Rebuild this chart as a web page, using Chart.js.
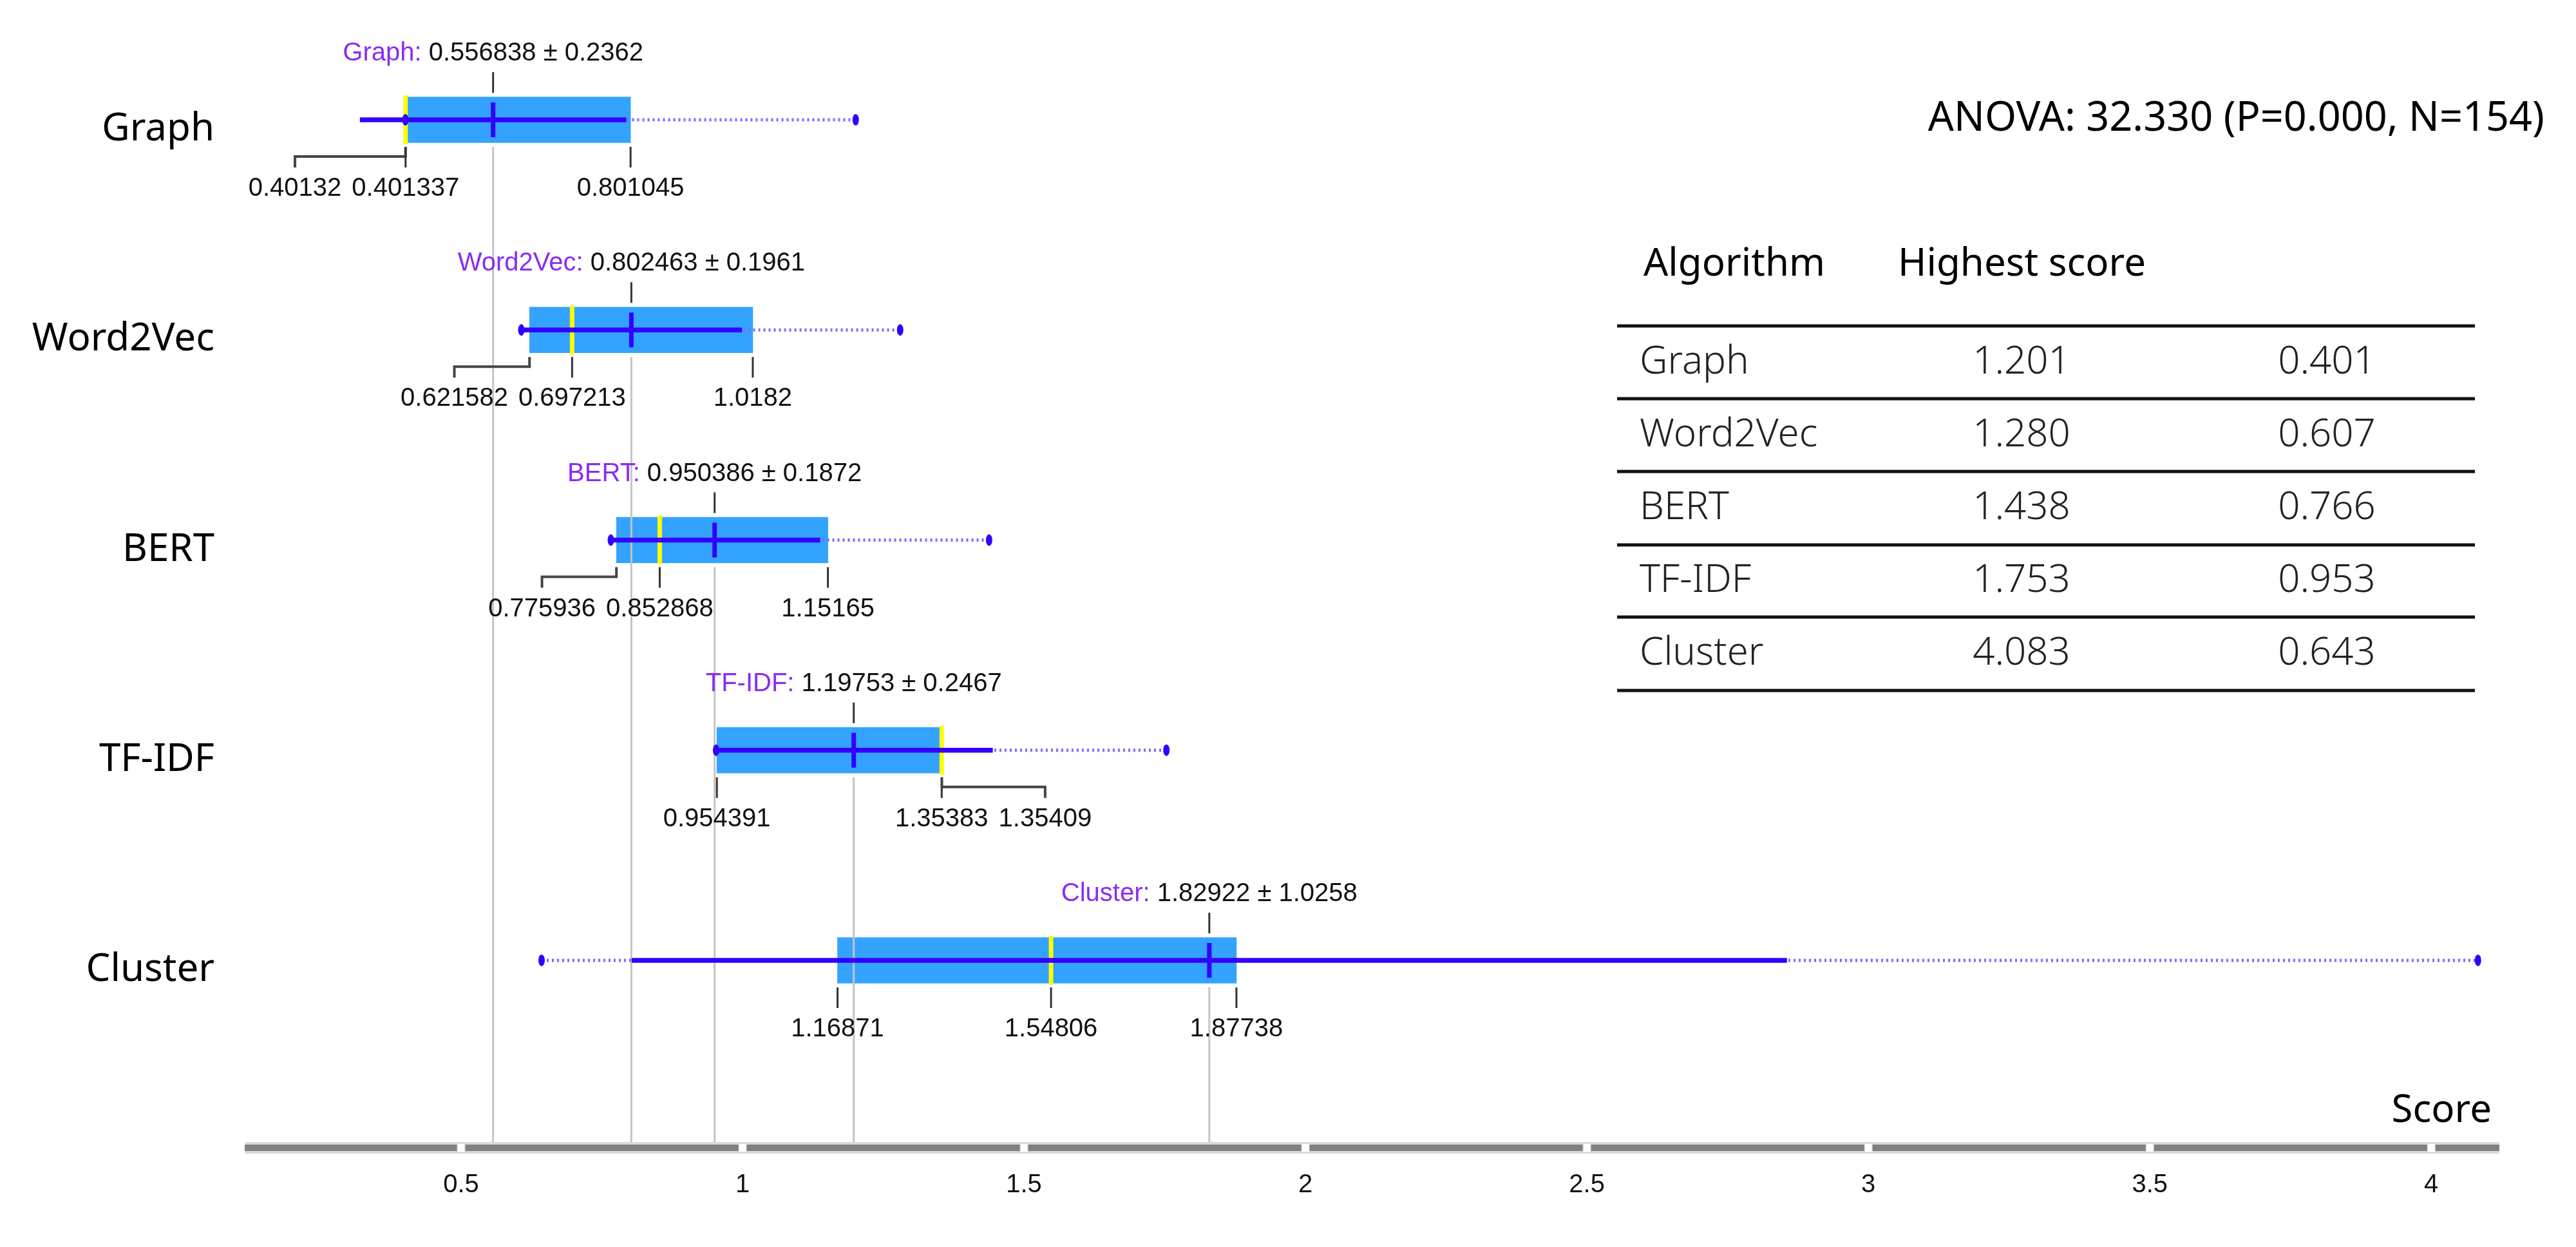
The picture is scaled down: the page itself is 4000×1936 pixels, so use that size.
<!DOCTYPE html>
<html>
<head>
<meta charset="utf-8">
<title>Score par algorithme</title>
<script src="https://cdn.jsdelivr.net/npm/chart.js@4.4.1/dist/chart.umd.min.js"></script>
<style>
    html, body { margin: 0; padding: 0; background: #fff; }
    #wrap { width: 4000px; height: 1936px; }
</style>
</head>
<body>
<div id="wrap"><canvas id="boxChart" width="4000" height="1936"></canvas></div>
<script>
// Données
const categories = ['Graph', 'Word2Vec', 'BERT', 'TF-IDF', 'Cluster'];
const means = [0.556838, 0.802463, 0.950386, 1.19753, 1.82922];
const stdDevs = [0.2362, 0.1961, 0.1872, 0.2467, 1.0258];
const q1 = [0.40132, 0.621582, 0.775936, 0.954391, 1.16871];
const medians = [0.401337, 0.697213, 0.852868, 1.35383, 1.54806];
const q3 = [0.801045, 1.0182, 1.15165, 1.35409, 1.87738];
const highest = [1.201, 1.280, 1.438, 1.753, 4.083];
const lowest = [0.401, 0.607, 0.766, 0.953, 0.643];
const xTicks = [0.5, 1, 1.5, 2, 2.5, 3, 3.5, 4];
const tableHeaders = ['Algorithm', 'Highest score'];
const anovaLabel = 'ANOVA: 32.330 (P=0.000, N=154)';
const axisTitle = 'Score';

// Couleurs
const BOX_BLUE = '#33a3ff';
const SD_BLUE = '#3300ff';
const DOT_BLUE = '#7d6cff';
const MEDIAN_YELLOW = '#ffff00';
const LABEL_PURPLE = '#8a2cf2';
const TICK_DARK = '#333333';
const MEAN_GRAY = '#c4c4c4';

const SMALL_FONT = '40px "Liberation Sans", Arial, sans-serif';
const BIG_FONT = '60px "Noto Sans", sans-serif';

// Format %g (6 chiffres significatifs)
const fmtG = v => parseFloat(v.toPrecision(6)).toString();

function line(ctx, x1, y1, x2, y2, color, width, dash) {
    ctx.save();
    ctx.strokeStyle = color;
    ctx.lineWidth = width;
    ctx.setLineDash(dash || []);
    ctx.beginPath();
    ctx.moveTo(x1, y1);
    ctx.lineTo(x2, y2);
    ctx.stroke();
    ctx.restore();
}

function text(ctx, str, x, y, font, color, align) {
    ctx.save();
    ctx.font = font;
    ctx.fillStyle = color;
    ctx.textAlign = align || 'center';
    ctx.textBaseline = 'middle';
    ctx.fillText(str, x, y);
    ctx.restore();
}

// Dessin des éléments propres au box plot (lignes, étiquettes, tableau)
const boxPlotExtras = {
    id: 'boxPlotExtras',
    afterDatasetDraw(chart, args) {
        if (args.index !== 0) return;
        const ctx = chart.ctx;
        const xs = chart.scales.x, ys = chart.scales.y;
        const axisY = chart.chartArea.bottom;
        categories.forEach((c, i) => {
            const cy = ys.getPixelForValue(i);
            // lignes grises verticales à la moyenne
            const mx = xs.getPixelForValue(means[i]);
            line(ctx, mx, cy + 42, mx, axisY - 6, MEAN_GRAY, 3);
            // moustaches pointillées min -> max
            line(ctx, xs.getPixelForValue(lowest[i]), cy, xs.getPixelForValue(highest[i]), cy, DOT_BLUE, 5, [3, 5]);
            // médiane
            const medX = xs.getPixelForValue(medians[i]);
            line(ctx, medX, cy - 38, medX, cy + 38, MEDIAN_YELLOW, 7);
        });
    },
    afterDatasetsDraw(chart) {
        const ctx = chart.ctx;
        const xs = chart.scales.x, ys = chart.scales.y;
        const area = chart.chartArea;

        categories.forEach((c, i) => {
            const cy = ys.getPixelForValue(i);
            const mx = xs.getPixelForValue(means[i]);

            // moyenne
            line(ctx, mx, cy - 27, mx, cy + 27, SD_BLUE, 7);
            // marqueurs min / max
            [lowest[i], highest[i]].forEach(v => {
                const px = xs.getPixelForValue(v);
                ctx.save();
                ctx.fillStyle = SD_BLUE;
                ctx.beginPath();
                ctx.ellipse(px, cy, 5, 9, 0, 0, Math.PI * 2);
                ctx.fill();
                ctx.restore();
            });

            // étiquette de la moyenne
            ctx.save();
            ctx.font = SMALL_FONT;
            const prefix = c + ':';
            const rest = ' ' + fmtG(means[i]) + ' \u00b1 ' + stdDevs[i].toFixed(4);
            const wp = ctx.measureText(prefix).width;
            const wr = ctx.measureText(rest).width;
            ctx.restore();
            const startX = mx - (wp + wr) / 2;
            text(ctx, prefix, startX, cy - 103, SMALL_FONT, LABEL_PURPLE, 'left');
            text(ctx, rest, startX + wp, cy - 103, SMALL_FONT, '#111', 'left');
            line(ctx, mx, cy - 74, mx, cy - 42, TICK_DARK, 3);

            // quartiles sous la boîte, décalés s'ils se chevauchent
            ctx.save();
            ctx.font = SMALL_FONT;
            const vals = [q1[i], medians[i], q3[i]];
            const labels = vals.map(fmtG);
            const widths = labels.map(l => ctx.measureText(l).width);
            ctx.restore();
            const px = vals.map(v => xs.getPixelForValue(v));
            const lx = px.slice();
            const gap = 16;
            if (lx[1] - lx[0] < (widths[0] + widths[1]) / 2 + gap) {
                lx[0] = lx[1] - (widths[0] + widths[1]) / 2 - gap;
            }
            if (lx[2] - lx[1] < (widths[1] + widths[2]) / 2 + gap) {
                lx[2] = lx[1] + (widths[1] + widths[2]) / 2 + gap;
            }
            const tTop = cy + 42, tBot = cy + 74, bY = cy + 57;
            for (let k = 0; k < 3; k++) {
                if (Math.abs(lx[k] - px[k]) < 1) {
                    line(ctx, px[k], tTop, px[k], tBot, TICK_DARK, 3);
                } else {
                    ctx.save();
                    ctx.strokeStyle = '#444';
                    ctx.lineWidth = 4;
                    ctx.beginPath();
                    ctx.moveTo(px[k], tTop);
                    ctx.lineTo(px[k], bY);
                    ctx.lineTo(lx[k], bY);
                    ctx.lineTo(lx[k], tBot);
                    ctx.stroke();
                    ctx.restore();
                }
                text(ctx, labels[k], lx[k], cy + 107, SMALL_FONT, '#111');
            }
        });

        // barre de l'axe des scores
        const ay = area.bottom;
        ctx.save();
        ctx.fillStyle = '#dadada';
        ctx.fillRect(area.left, ay - 9, area.right - area.left, 18);
        ctx.fillStyle = '#808080';
        ctx.fillRect(area.left, ay - 5, area.right - area.left, 10);
        xs.ticks.forEach(t => {
            const tx = xs.getPixelForValue(t.value);
            ctx.fillStyle = '#fff';
            ctx.fillRect(tx - 6, ay - 7, 12, 14);
            ctx.strokeStyle = '#d0d0d0';
            ctx.lineWidth = 1;
            ctx.strokeRect(tx - 6, ay - 7, 12, 14);
        });
        ctx.restore();
        text(ctx, axisTitle, 3869, 1725, BIG_FONT, '#000', 'right');

        // ANOVA
        text(ctx, anovaLabel, 3951, 185, '63px "Noto Sans", sans-serif', '#000', 'right');

        // tableau des scores
        const rowLines = [506, 619, 732, 846, 958, 1072];
        text(ctx, tableHeaders[0], 2552, 411, BIG_FONT, '#000', 'left');
        text(ctx, tableHeaders[1], 2947, 411, BIG_FONT, '#000', 'left');
        rowLines.forEach(y => line(ctx, 2511, y, 3843, y, '#111', 5));
        categories.forEach((c, i) => {
            const ry = (rowLines[i] + rowLines[i + 1]) / 2;
            const bodyFont = '300 60px "Noto Sans", sans-serif';
            text(ctx, c, 2546, ry, bodyFont, '#222', 'left');
            text(ctx, highest[i].toFixed(3), 3139, ry, bodyFont, '#222');
            text(ctx, lowest[i].toFixed(3), 3613, ry, bodyFont, '#222');
        });
    }
};

const boxChart = new Chart(document.getElementById('boxChart'), {
    type: 'bar',
    data: {
        datasets: [{
            label: 'Quartiles',
            data: categories.map((c, i) => ({ x: [q1[i], q3[i]], y: i })),
            backgroundColor: BOX_BLUE,
            borderWidth: 0,
            barThickness: 71,
            maxBarThickness: 71,
            grouped: false,
            order: 2
        }, {
            label: 'Moyenne ± écart-type',
            data: categories.map((c, i) => ({ x: [means[i] - stdDevs[i], means[i] + stdDevs[i]], y: i })),
            backgroundColor: SD_BLUE,
            borderWidth: 0,
            barThickness: 7,
            maxBarThickness: 7,
            grouped: false,
            order: 1
        }]
    },
    options: {
        indexAxis: 'y',
        responsive: false,
        devicePixelRatio: 1,
        animation: false,
        layout: { padding: { left: 0, right: 119, top: 0, bottom: 0 } },
        plugins: {
            legend: { display: false },
            tooltip: { enabled: false }
        },
        scales: {
            x: {
                type: 'linear',
                min: 0.1156,
                max: 4.121,
                grid: { display: false, drawTicks: false },
                border: { display: false },
                afterBuildTicks: s => { s.ticks = xTicks.map(v => ({ value: v })); },
                afterFit: s => { s.height = 154; },
                ticks: {
                    font: { family: '"Liberation Sans", Arial, sans-serif', size: 40 },
                    color: '#111',
                    padding: 34,
                    maxRotation: 0,
                    autoSkip: false,
                    callback: v => String(v)
                }
            },
            y: {
                type: 'linear',
                reverse: true,
                offset: false,
                min: -0.5701,
                max: 4.892,
                grid: { display: false, drawTicks: false, offset: false },
                border: { display: false },
                afterBuildTicks: s => { s.ticks = categories.map((c, i) => ({ value: i })); },
                afterFit: s => { s.width = 380; s.paddingTop = 0; s.paddingBottom = 0; },
                ticks: {
                    font: { family: '"Noto Sans", sans-serif', size: 60 },
                    color: '#000',
                    padding: 47,
                    labelOffset: 15,
                    callback: v => categories[v]
                }
            }
        }
    },
    plugins: [boxPlotExtras]
});
</script>
</body>
</html>
